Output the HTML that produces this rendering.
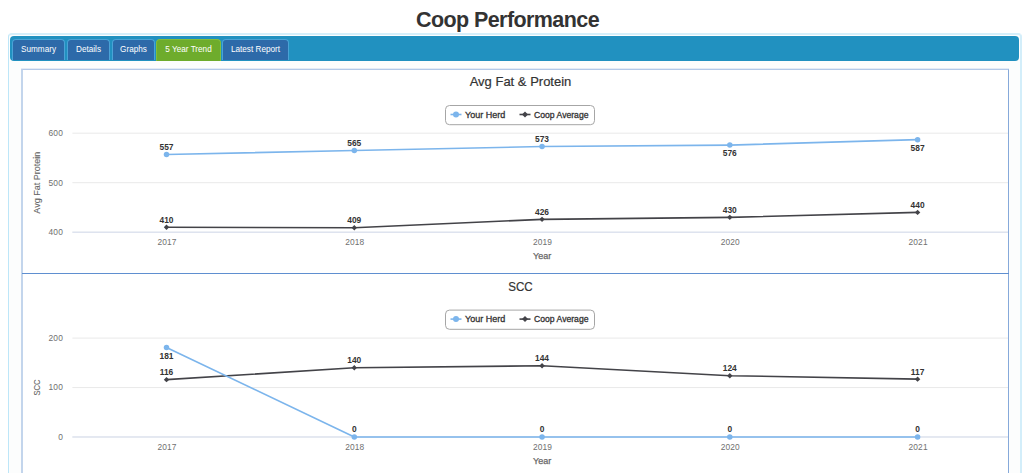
<!DOCTYPE html>
<html><head><meta charset="utf-8"><style>
html,body{margin:0;padding:0;background:#fff;width:1024px;height:473px;overflow:hidden;position:relative;font-family:"Liberation Sans",sans-serif;}
.title{position:absolute;left:0;top:8px;width:1015px;text-align:center;font-weight:bold;font-size:21.5px;letter-spacing:-0.58px;color:#333;line-height:24px;}
.outer{position:absolute;left:8px;top:33px;width:1011px;height:460px;border:1px solid #bde6f8;border-right:2px solid #d3eefa;border-top:2px solid #d5effa;border-radius:4px;background:#fcfdfd;box-sizing:content-box;}
.hdr{position:absolute;left:10px;top:36px;width:1009px;height:25px;background:#2191c0;border-radius:4px;}
.tab{position:absolute;top:39px;height:20px;border:1px solid #4aa3d6;border-bottom:none;border-radius:4px 4px 0 0;background:#2d6aa9;color:#fff;font-size:8.2px;line-height:20px;text-align:center;box-sizing:border-box;height:21px;}
.tab.act{background:#6eac2c;border-color:#82bd3c;height:22px;}
.chartbox{position:absolute;left:21px;top:69px;width:985px;height:420px;border:1px solid #b3c9e8;border-left:2px solid #c3d5ec;border-right:1px solid #86a9da;background:#fff;box-shadow:0 -1px 0 #e3ebf6;}
.div{position:absolute;left:22px;top:273px;width:987px;height:1px;background:#5f8fd0;}
svg{position:absolute;left:0;top:0;}
.al{font-size:8.4px;fill:#707070;letter-spacing:0.15px;}
.at{font-size:9px;fill:#666;stroke:#666;stroke-width:0.25px;}
.tt{font-size:13px;fill:#333;stroke:#333;stroke-width:0.2px;}
.lg{font-size:9px;fill:#333;stroke:#333;stroke-width:0.3px;}
.dl{font-size:8.4px;fill:#333;font-weight:bold;}
</style></head><body>
<div class="title">Coop Performance</div>
<div class="outer"></div>
<div class="hdr"></div>
<div class="tab" style="left:12px;width:53px">Summary</div>
<div class="tab" style="left:67px;width:43px">Details</div>
<div class="tab" style="left:112px;width:43px">Graphs</div>
<div class="tab act" style="left:156px;width:65px">5 Year Trend</div>
<div class="tab" style="left:222px;width:67px">Latest Report</div>
<div class="chartbox"></div>
<div class="div"></div>
<svg width="1024" height="473" viewBox="0 0 1024 473">
<line x1="72.4" x2="1008" y1="232.20" y2="232.20" stroke="#e9e9e9" stroke-width="1"/>
<text x="63" y="235.10" text-anchor="end" class="al">400</text>
<line x1="72.4" x2="1008" y1="182.70" y2="182.70" stroke="#e9e9e9" stroke-width="1"/>
<text x="63" y="185.60" text-anchor="end" class="al">500</text>
<line x1="72.4" x2="1008" y1="133.20" y2="133.20" stroke="#e9e9e9" stroke-width="1"/>
<text x="63" y="136.10" text-anchor="end" class="al">600</text>
<line x1="72.4" x2="1008" y1="232.20" y2="232.20" stroke="#d5ddee" stroke-width="1"/>
<text x="167.0" y="245.20" text-anchor="middle" class="al">2017</text>
<text x="354.8" y="245.20" text-anchor="middle" class="al">2018</text>
<text x="542.55" y="245.20" text-anchor="middle" class="al">2019</text>
<text x="730.3" y="245.20" text-anchor="middle" class="al">2020</text>
<text x="918.1" y="245.20" text-anchor="middle" class="al">2021</text>
<text x="542.2" y="258.70" text-anchor="middle" class="at">Year</text>
<text x="40.5" y="182.70" text-anchor="middle" class="at" style="stroke-width:0.1px" transform="rotate(-90 40.5 182.70)">Avg Fat Protein</text>
<text x="520.5" y="85.90" text-anchor="middle" class="tt">Avg Fat &amp; Protein</text>
<rect x="445.5" y="105.50" width="149" height="19.2" rx="4" ry="4" fill="none" stroke="#a6a6a6" stroke-width="1"/>
<line x1="450.5" x2="461.5" y1="114.50" y2="114.50" stroke="#7cb5ec" stroke-width="1.6"/>
<circle cx="456" cy="114.50" r="3" fill="#7cb5ec"/>
<text x="465" y="117.60" class="lg">Your Herd</text>
<line x1="519.5" x2="530.5" y1="114.50" y2="114.50" stroke="#434348" stroke-width="1.6"/>
<path d="M525 111.50 L528 114.50 L525 117.50 L522 114.50 Z" fill="#434348"/>
<text x="534" y="117.60" class="lg" textLength="54.5" lengthAdjust="spacingAndGlyphs">Coop Average</text>
<polyline points="166.5,227.25 354.3,227.75 542.05,219.33 729.8,217.35 917.6,212.40" fill="none" stroke="#434348" stroke-width="1.6" stroke-linejoin="round"/>
<path d="M166.5 224.55 L169.2 227.25 L166.5 229.95 L163.8 227.25 Z" fill="#434348"/>
<text x="166.5" y="222.65" text-anchor="middle" class="dl">410</text>
<path d="M354.3 225.05 L357.0 227.75 L354.3 230.44 L351.6 227.75 Z" fill="#434348"/>
<text x="354.3" y="223.15" text-anchor="middle" class="dl">409</text>
<path d="M542.05 216.63 L544.75 219.33 L542.05 222.03 L539.3499999999999 219.33 Z" fill="#434348"/>
<text x="542.05" y="214.73" text-anchor="middle" class="dl">426</text>
<path d="M729.8 214.65 L732.5 217.35 L729.8 220.05 L727.0999999999999 217.35 Z" fill="#434348"/>
<text x="729.8" y="212.75" text-anchor="middle" class="dl">430</text>
<path d="M917.6 209.70 L920.3000000000001 212.40 L917.6 215.10 L914.9 212.40 Z" fill="#434348"/>
<text x="917.6" y="207.80" text-anchor="middle" class="dl">440</text>
<polyline points="166.5,154.48 354.3,150.52 542.05,146.56 729.8,145.08 917.6,139.63" fill="none" stroke="#7cb5ec" stroke-width="1.6" stroke-linejoin="round"/>
<circle cx="166.5" cy="154.48" r="2.75" fill="#7cb5ec"/>
<text x="166.5" y="149.88" text-anchor="middle" class="dl">557</text>
<circle cx="354.3" cy="150.52" r="2.75" fill="#7cb5ec"/>
<text x="354.3" y="145.92" text-anchor="middle" class="dl">565</text>
<circle cx="542.05" cy="146.56" r="2.75" fill="#7cb5ec"/>
<text x="542.05" y="141.97" text-anchor="middle" class="dl">573</text>
<circle cx="729.8" cy="145.08" r="2.75" fill="#7cb5ec"/>
<text x="729.8" y="156.38" text-anchor="middle" class="dl">576</text>
<circle cx="917.6" cy="139.63" r="2.75" fill="#7cb5ec"/>
<text x="917.6" y="150.94" text-anchor="middle" class="dl">587</text>
<line x1="72.4" x2="1008" y1="437.00" y2="437.00" stroke="#e9e9e9" stroke-width="1"/>
<text x="63" y="439.90" text-anchor="end" class="al">0</text>
<line x1="72.4" x2="1008" y1="387.55" y2="387.55" stroke="#e9e9e9" stroke-width="1"/>
<text x="63" y="390.45" text-anchor="end" class="al">100</text>
<line x1="72.4" x2="1008" y1="338.10" y2="338.10" stroke="#e9e9e9" stroke-width="1"/>
<text x="63" y="341.00" text-anchor="end" class="al">200</text>
<line x1="72.4" x2="1008" y1="437.00" y2="437.00" stroke="#d5ddee" stroke-width="1"/>
<text x="167.0" y="450.00" text-anchor="middle" class="al">2017</text>
<text x="354.8" y="450.00" text-anchor="middle" class="al">2018</text>
<text x="542.55" y="450.00" text-anchor="middle" class="al">2019</text>
<text x="730.3" y="450.00" text-anchor="middle" class="al">2020</text>
<text x="918.1" y="450.00" text-anchor="middle" class="al">2021</text>
<text x="542.2" y="463.50" text-anchor="middle" class="at">Year</text>
<text x="40.5" y="387.55" text-anchor="middle" class="at" style="stroke-width:0.1px" transform="rotate(-90 40.5 387.55)" textLength="16" lengthAdjust="spacingAndGlyphs" font-size="8.3">SCC</text>
<text x="520.5" y="290.50" text-anchor="middle" class="tt" textLength="24.5" lengthAdjust="spacingAndGlyphs">SCC</text>
<rect x="445.5" y="310.10" width="149" height="19.2" rx="4" ry="4" fill="none" stroke="#a6a6a6" stroke-width="1"/>
<line x1="450.5" x2="461.5" y1="319.10" y2="319.10" stroke="#7cb5ec" stroke-width="1.6"/>
<circle cx="456" cy="319.10" r="3" fill="#7cb5ec"/>
<text x="465" y="322.20" class="lg">Your Herd</text>
<line x1="519.5" x2="530.5" y1="319.10" y2="319.10" stroke="#434348" stroke-width="1.6"/>
<path d="M525 316.10 L528 319.10 L525 322.10 L522 319.10 Z" fill="#434348"/>
<text x="534" y="322.20" class="lg" textLength="54.5" lengthAdjust="spacingAndGlyphs">Coop Average</text>
<polyline points="166.5,379.64 354.3,367.77 542.05,365.79 729.8,375.68 917.6,379.14" fill="none" stroke="#434348" stroke-width="1.6" stroke-linejoin="round"/>
<path d="M166.5 376.94 L169.2 379.64 L166.5 382.34 L163.8 379.64 Z" fill="#434348"/>
<text x="166.5" y="375.04" text-anchor="middle" class="dl">116</text>
<path d="M354.3 365.07 L357.0 367.77 L354.3 370.47 L351.6 367.77 Z" fill="#434348"/>
<text x="354.3" y="363.17" text-anchor="middle" class="dl">140</text>
<path d="M542.05 363.09 L544.75 365.79 L542.05 368.49 L539.3499999999999 365.79 Z" fill="#434348"/>
<text x="542.05" y="361.19" text-anchor="middle" class="dl">144</text>
<path d="M729.8 372.98 L732.5 375.68 L729.8 378.38 L727.0999999999999 375.68 Z" fill="#434348"/>
<text x="729.8" y="371.08" text-anchor="middle" class="dl">124</text>
<path d="M917.6 376.44 L920.3000000000001 379.14 L917.6 381.84 L914.9 379.14 Z" fill="#434348"/>
<text x="917.6" y="374.54" text-anchor="middle" class="dl">117</text>
<polyline points="166.5,347.50 354.3,437.00 542.05,437.00 729.8,437.00 917.6,437.00" fill="none" stroke="#7cb5ec" stroke-width="1.6" stroke-linejoin="round"/>
<circle cx="166.5" cy="347.50" r="2.75" fill="#7cb5ec"/>
<text x="166.5" y="358.80" text-anchor="middle" class="dl">181</text>
<circle cx="354.3" cy="437.00" r="2.75" fill="#7cb5ec"/>
<text x="354.3" y="432.40" text-anchor="middle" class="dl">0</text>
<circle cx="542.05" cy="437.00" r="2.75" fill="#7cb5ec"/>
<text x="542.05" y="432.40" text-anchor="middle" class="dl">0</text>
<circle cx="729.8" cy="437.00" r="2.75" fill="#7cb5ec"/>
<text x="729.8" y="432.40" text-anchor="middle" class="dl">0</text>
<circle cx="917.6" cy="437.00" r="2.75" fill="#7cb5ec"/>
<text x="917.6" y="432.40" text-anchor="middle" class="dl">0</text>
</svg>
</body></html>
